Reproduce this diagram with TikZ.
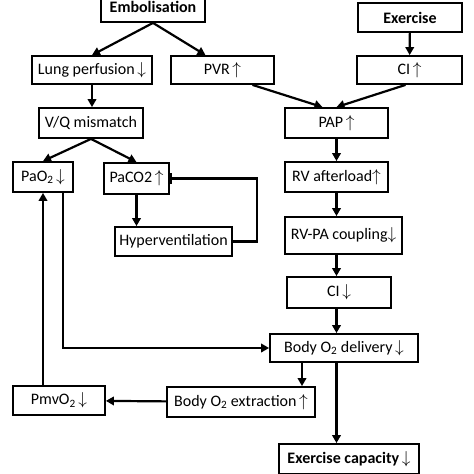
\documentclass[tikz,border=0pt]{standalone}
\usepackage{fontspec}
\setmainfont{Carlito}
\usepackage{tikz}
\usetikzlibrary{arrows,arrows.meta,calc,positioning}
\newcommand{\upa}{\,$\uparrow$}
\newcommand{\dna}{\,$\downarrow$}
\tikzset{blk/.style={draw, line width=1.8pt, inner sep=0pt, font=\fontsize{16}{19}\selectfont},
	bblk/.style={blk, font=\fontsize{16}{19}\selectfont\bfseries},
	sz/.style 2 args={minimum width=#1pt, minimum height=#2pt},
	arr/.style={->, line width=2.2pt}}

\begin{document}
\begin{tikzpicture}[x=1pt,y=-1pt,>={Triangle[length=8pt,width=8.5pt]}]
		\useasboundingbox (0,0) rectangle (474,474); \clip (0,0) rectangle (474,474);

		\node[bblk,sz={104}{30}] (emb) at (153,7) {Embolisation}; \node[bblk,sz={104}{29}] (exer) at (410,17.5) {Exercise};
		\node[blk,sz={120}{28}] (lung) at (92,70) {Lung perfusion\dna}; \node[blk,sz={103}{28}] (pvr) at (222.5,70) {PVR\upa}; \node[blk,sz={105}{28}] (ciu) at (409.5,70) {CI\upa};
		\node[blk,sz={104}{30}] (vq) at (91,123) {V/Q mismatch}; \node[blk,sz={103}{30}] (pap) at (336.5,123) {PAP\upa};
		\node[blk,sz={60}{30}] (pao2) at (43,177) {PaO\textsubscript{2}\dna}; \node[blk,sz={65}{31}] (paco2) at (136.5,178.5) {PaCO2\upa}; \node[blk,sz={103}{30}] (rva) at (336.5,177) {RV afterload$\uparrow$};
		\node[blk,sz={117}{29}] (hyp) at (173.5,241.5) {Hyperventilation}; \node[blk,sz={117}{37}] (rvpa) at (343.5,235.5) {RV-PA coupling$\downarrow$};
		\node[blk,sz={104}{31}] (cid) at (339,292.5) {CI\dna}; \node[blk,sz={148}{28}] (bdel) at (344,348) {Body O\textsubscript{2} delivery\dna};
		\node[blk,sz={92}{29}] (pmv) at (59,400.5) {PmvO\textsubscript{2}\dna}; \node[blk,sz={148}{30}] (bext) at (241,402) {Body O\textsubscript{2} extraction\upa};
		\node[bblk,sz={140}{30}] (exc) at (349,459) {Exercise capacity\dna};

		\draw[arr] (emb.south) -- (lung.north); \draw[arr] (emb.south) -- ([xshift=-17pt]pvr.north); \draw[arr] (exer) -- (ciu);
		\draw[arr] ([xshift=30pt]pvr.south) -- ([xshift=-14pt]pap.north); \draw[arr] ([xshift=-4pt]ciu.south) -- (pap.north);
		\draw[arr] (lung) -- (lung |- vq.north); \draw[arr] (vq.south) -- (pao2.north); \draw[arr] (vq.south) -- (paco2.north); \draw[arr] (paco2) -- (paco2 |- hyp.north);
		\draw[line width=2.2pt,-{Bar[width=11pt]}] (hyp.east) -- ++(24,0) |- (paco2.east);
		\draw[arr] (pap) -- (rva); \draw[arr] (rva) -- (rva |- rvpa.north); \draw[arr] (rva |- rvpa.south) -- (rva |- cid.north); \draw[arr] (rva |- cid.south) -- (rva |- bdel.north);
		\draw[arr] ([xshift=-42pt]bdel.south) -- ([xshift=-42pt]bdel.south |- bext.north); \draw[arr] (rva |- bdel.south) -- (rva |- exc.north);
		\draw[arr] (bext) -- (pmv); \draw[arr] (pao2 |- pmv.north) -- (pao2); \draw[arr] ([xshift=20pt]pao2.south) |- (bdel.west);
	\end{tikzpicture}
\end{document}
